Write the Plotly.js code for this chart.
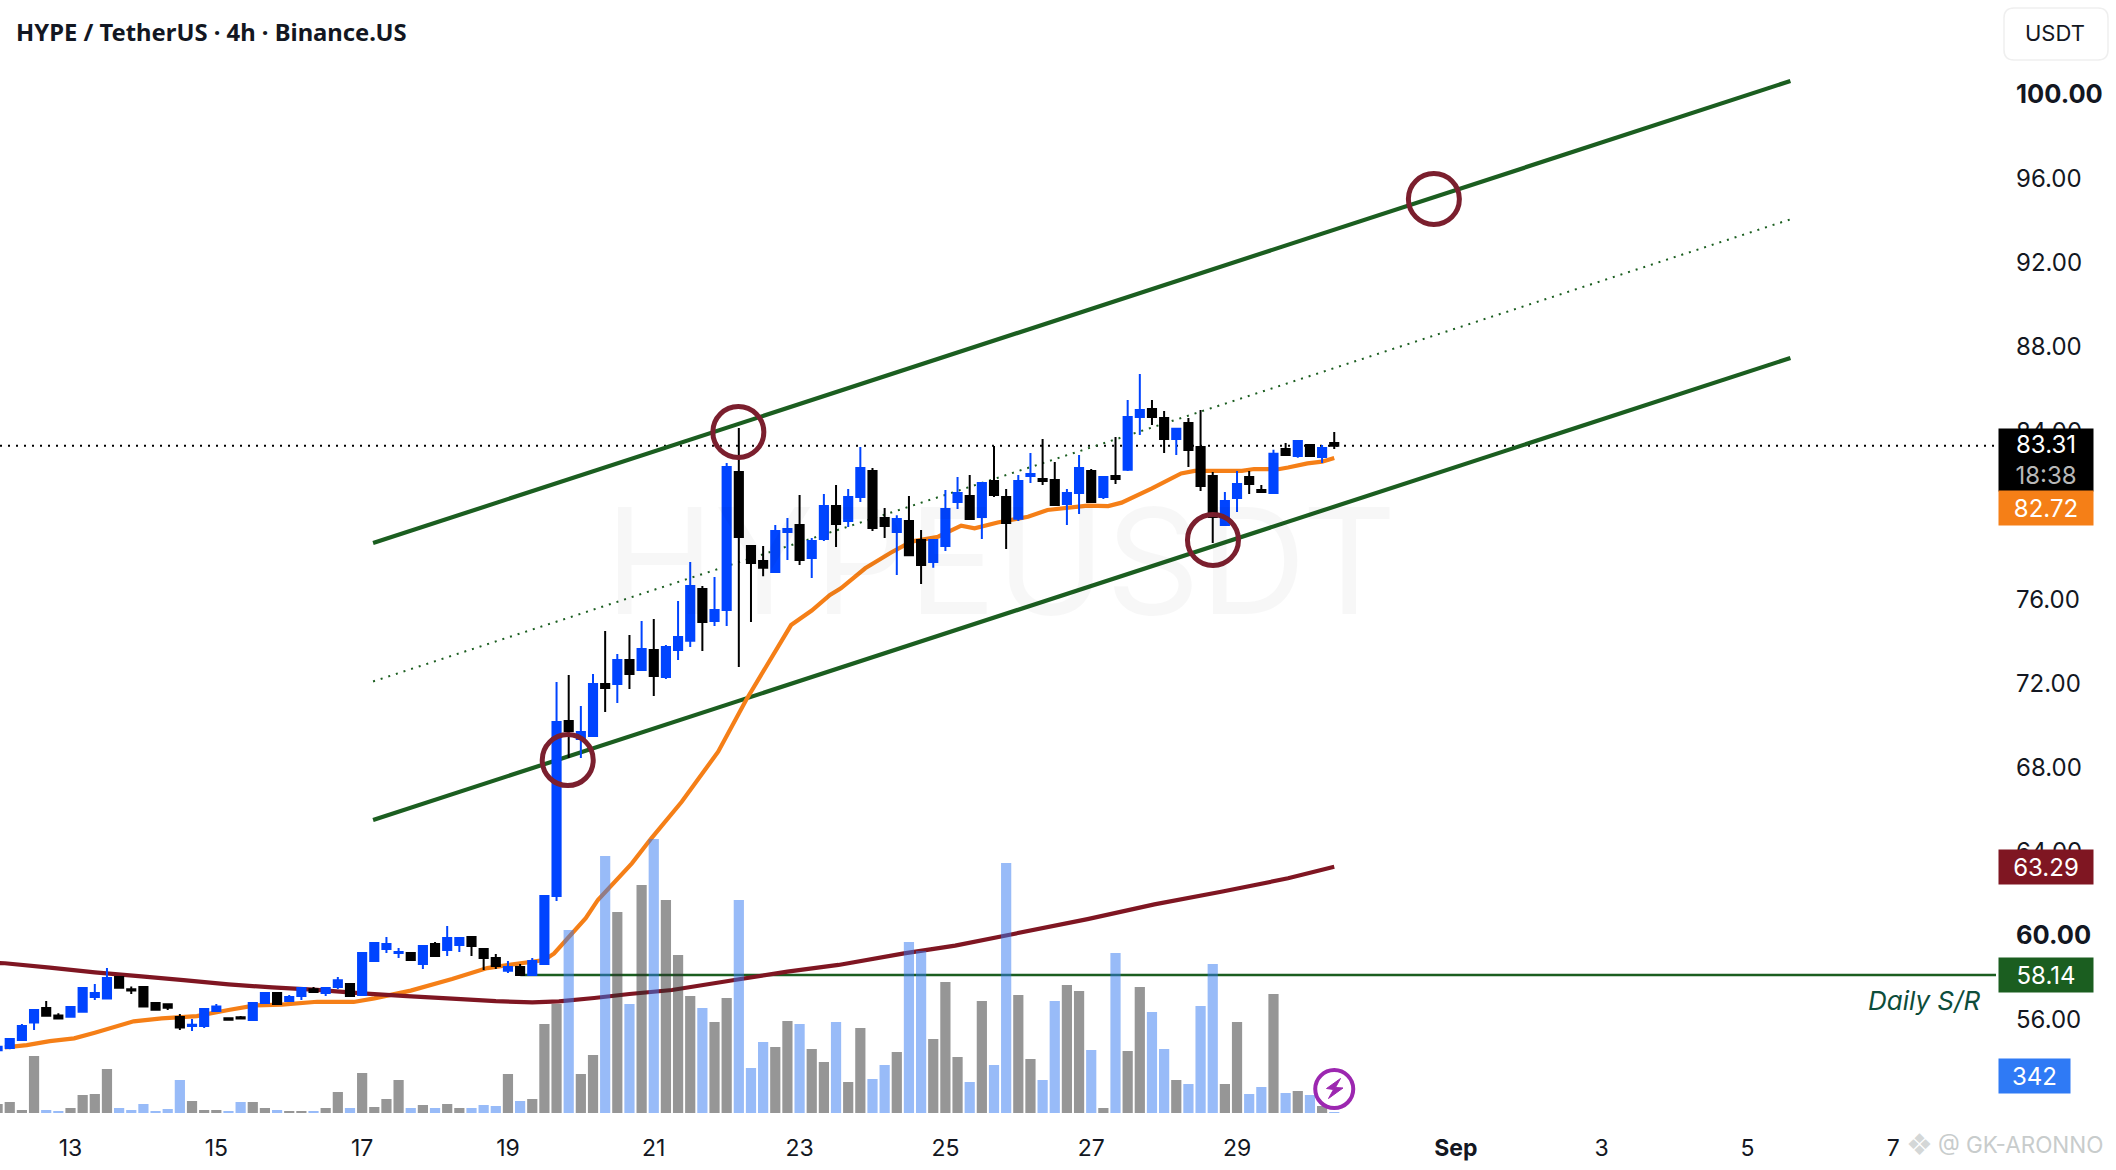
<!DOCTYPE html>
<html><head><meta charset="utf-8">
<script src="https://cdn.plot.ly/plotly-3.0.1.min.js"></script>
<style>html,body{margin:0;padding:0;background:#fff}#c{width:2116px;height:1170px}</style>
</head><body><div id="c"></div>
<script>
// 4h candles, first bar = Aug 12 00:00
const opens=[54.57,54.67,55.05,55.88,56.57,56.22,56.16,56.40,57.10,57.02,58.05,57.46,57.57,56.81,56.75,56.14,55.72,55.72,56.43,56.08,56.13,56.00,56.81,57.29,56.90,57.14,57.46,57.29,57.57,57.71,57.19,58.81,59.38,59.19,59.19,58.66,59.62,59.33,59.57,59.95,59.38,58.95,58.35,58.52,58.14,58.66,61.90,70.22,69.36,69.50,71.98,71.98,73.12,72.64,73.60,72.31,73.60,74.03,76.50,74.97,75.50,82.06,78.54,77.83,77.30,79.20,79.54,77.97,78.87,80.44,79.73,80.87,82.10,79.87,79.20,79.73,78.83,77.78,78.54,80.63,80.92,79.92,81.63,80.87,79.83,81.87,81.73,81.68,80.54,81.06,82.11,80.87,81.87,82.16,84.67,85.05,84.63,83.63,84.39,83.25,81.87,79.54,80.82,81.82,81.20,81.06,83.15,82.82,83.34,82.77,83.44];
const highs=[54.75,55.15,55.81,56.48,56.90,56.32,56.62,57.52,57.71,58.47,58.05,57.59,57.62,56.84,56.75,56.29,56.05,56.52,56.76,56.08,56.19,56.81,57.33,57.29,57.19,57.55,57.57,57.52,58.05,57.71,59.19,59.66,59.95,59.43,59.23,59.52,59.71,60.47,59.90,59.95,59.38,59.14,58.81,58.66,58.95,61.90,72.07,72.41,70.93,72.45,74.50,73.40,74.31,74.97,75.07,73.83,75.93,77.78,76.64,77.07,82.49,84.15,78.54,78.54,79.54,79.87,80.97,78.92,81.01,81.44,81.25,83.25,82.25,80.35,80.00,80.92,79.30,78.83,81.20,81.82,81.92,81.54,83.30,81.25,81.92,82.96,83.63,82.53,81.25,82.87,82.20,81.82,83.72,85.48,86.72,85.48,84.96,84.11,84.63,85.01,82.06,81.11,82.11,82.11,81.44,83.11,83.44,83.53,83.34,83.34,83.96];
const lows=[54.55,54.61,55.05,55.53,56.21,56.07,56.16,56.40,56.95,57.02,57.54,57.24,56.64,56.49,56.48,55.53,55.48,55.62,56.43,56.02,56.07,56.00,56.81,56.76,56.90,56.95,57.33,57.14,57.48,57.14,57.19,58.81,59.19,58.95,58.81,58.43,59.04,59.04,59.23,59.04,58.38,58.43,58.24,58.14,58.14,58.62,61.66,68.46,68.46,69.50,70.65,71.07,71.74,72.64,71.41,72.22,73.12,73.74,73.55,74.74,74.74,72.79,74.93,77.10,77.26,77.87,77.64,77.02,78.78,78.49,79.44,80.63,79.25,78.92,77.16,78.10,76.73,77.50,78.30,80.30,79.82,78.87,80.87,78.40,79.73,81.54,81.44,80.49,79.54,80.06,80.63,80.78,81.49,82.11,83.82,84.29,82.96,82.87,82.30,81.16,78.68,79.54,80.16,81.01,81.11,81.06,82.82,82.73,82.82,82.49,83.15];
const closes=[54.73,55.10,55.72,56.48,56.21,56.07,56.62,57.52,57.29,58.00,57.54,57.40,56.64,56.49,56.59,55.64,55.78,56.52,56.65,56.02,56.07,56.81,57.29,56.76,57.10,57.52,57.33,57.52,57.89,57.14,59.19,59.66,59.62,59.23,58.85,59.52,59.04,59.90,59.90,59.52,58.95,58.57,58.52,58.14,58.81,61.90,70.17,69.74,69.70,71.98,71.79,73.12,72.45,73.64,72.36,73.74,74.21,76.64,74.93,75.50,82.30,78.97,77.73,77.50,79.25,79.35,77.87,78.78,80.44,79.59,80.87,82.25,79.40,79.49,79.82,78.10,77.64,78.83,80.30,81.06,79.82,81.54,80.97,79.63,81.63,81.96,81.63,80.49,81.06,82.25,80.63,81.82,81.73,84.67,85.00,84.67,83.63,84.11,83.10,81.39,79.92,80.68,81.49,81.49,81.11,82.92,82.87,83.53,82.82,83.20,83.31];
const volumes=[3078,3762,1026,19494,1026,684,1710,6156,6498,15048,1710,1026,3078,684,1368,11286,4104,1026,1026,684,3762,3762,1710,1026,684,684,684,1710,7182,1710,13680,2052,4788,11286,1710,2736,1710,3078,1710,1710,2736,2394,13338,4104,4788,30438,37278,62586,13338,19836,87894,68742,37278,77976,93708,72846,54036,40014,35910,31122,39330,72846,15390,24282,22572,31464,30438,21888,17442,31122,10602,29070,11628,16416,20862,58482,55404,25308,44802,19152,10602,38304,16416,85500,40356,18468,11286,38304,43776,41724,21546,1710,54720,21204,43092,34542,21888,11286,9918,36594,50958,9918,31122,6498,8892,40698,6840,7524,6156,2394,342];

// moving averages, read at these bar numbers
const emaBars=[0.6,2.4,4.3,6.3,8,11.2,13.5,16.4,19,21.2,23.4,26.3,29.3,31,34,37.4,40.3,42.1,45,45.8,48.4,49.4,52.2,53.8,56.3,59.3,61.6,65.3,67,68.5,69.4,71.4,73.5,75.2,77.4,79.3,80.4,82.3,84.8,86.4,89.7,91.4,92.5,95,97.4,98.5,100.7,102.4,103.4,105.4,106.2,107.8,109,110];
const emaVals=[54.70,54.81,55.00,55.13,55.40,55.94,56.08,56.19,56.48,56.70,56.73,56.87,56.86,57.03,57.40,57.95,58.47,58.62,58.85,59.17,60.84,61.71,63.45,64.64,66.38,68.76,71.22,74.78,75.47,76.21,76.53,77.48,78.22,78.75,78.98,79.51,79.38,79.66,79.93,80.25,80.46,80.44,80.60,81.28,81.99,82.11,82.11,82.11,82.20,82.19,82.27,82.47,82.55,82.72];
const smaBars=[-0.6,0.6,4.3,8,11.6,15.3,19,22.6,26.3,30,33.7,37.4,41,44,46.2,49.1,52,55.5,60.9,65,69.2,74.6,78.8,83.4,89.7,95.2,100.7,106.2,110];
const smaVals=[58.72,58.70,58.49,58.27,58.09,57.90,57.70,57.55,57.43,57.27,57.14,57.02,56.90,56.84,56.89,57.05,57.24,57.43,57.93,58.30,58.62,59.17,59.54,60.07,60.80,61.50,62.10,62.74,63.29];

// drawings (day of August, price)
const channelDays=[17.15,36.59];
const channelUpper=[78.68,100.65];
const channelMid=[72.10,94.07];
const channelLower=[65.51,87.48];
const circleDays=[22.16,19.82,28.67,31.70];
const circlePrices=[83.96,68.36,78.83,95.04];
const srDays=[19.17,39.41];
const srLevel=[58.14,58.14];
const lastPrice=83.31, emaLast=82.72, smaLast=63.29, srLast=58.14;

const priceTicks=[56,60,64,68,72,76,84,88,92,96,100];
const B=t=>'<span style="font-size:25.5px"><b>'+t+'</b></span>';
const priceLabels=['56.00',B('60.00'),'64.00','68.00','72.00','76.00','84.00','88.00','92.00','96.00',B('100.00')];
const dayTicks=[13,15,17,19,21,23,25,27,29,32,34,36,38];
const dayLabels=['13','15','17','19','21','23','25','27','29','<b>Sep</b>','3','5','7'];

const days=opens.map((_,i)=>12+i/6);
const barDay=b=>12+b/6;
const xRange=[12.033,39.41], yRange=[51.01,104.5], volRange=[-4104,380646];
const F='Inter, sans-serif';

const line=(x,y,color,width,dash,ya)=>({type:'scatter',mode:'lines',x,y,yaxis:ya||'y',line:{color,width,dash:dash||'solid',simplify:false},hoverinfo:'skip',showlegend:false});

const traces=[
  line(xRange,[lastPrice,lastPrice],'#000',2,'2px,6px'),
  line(srDays,srLevel,'#1b5e20',2.4),
  line(channelDays,channelUpper,'#1b5e20',4.2),
  line(channelDays,channelLower,'#1b5e20',4.2),
  line(channelDays,channelMid,'#1b5e20',2,'2px,6px'),
  line(emaBars.map(barDay),emaVals,'#f57f17',4.2),
  line(smaBars.map(barDay),smaVals,'#7f1622',4.2),
  {type:'bar',x:days,y:volumes,yaxis:'y2',width:0.14,
   marker:{color:opens.map((o,i)=>closes[i]>=o?'rgba(46,46,46,0.5)':'rgba(49,119,241,0.5)'),line:{width:0}},hoverinfo:'skip',showlegend:false},
  {type:'candlestick',x:days,open:opens,high:highs,low:lows,close:closes,yaxis:'y3',whiskerwidth:0,
   increasing:{line:{color:'#0044ff',width:2},fillcolor:'#0044ff'},
   decreasing:{line:{color:'#000000',width:2},fillcolor:'#000000'},hoverinfo:'skip',showlegend:false},
  {type:'scatter',mode:'markers',x:circleDays,y:circlePrices,yaxis:'y4',
   marker:{symbol:'circle-open',size:51,color:'#7b1f2e',line:{color:'#7b1f2e',width:5}},hoverinfo:'skip',showlegend:false},
  {type:'scatter',mode:'markers',x:[barDay(110)],y:[52.72],yaxis:'y4',
   marker:{symbol:'circle',size:38,color:'#fff',line:{color:'#9c27b0',width:4}},hoverinfo:'skip',showlegend:false}
];

const tag=(y,text,bg,h,w)=>({xref:'paper',yref:'y',x:1,y,xanchor:'left',yanchor:'middle',xshift:2,text,showarrow:false,
  bgcolor:bg,width:w||94,height:h||34,borderpad:0,align:'center',valign:'middle',font:{family:F,size:24,color:'#fff'}});
const note=(xpx,ypx,text,font,xa)=>({xref:'paper',yref:'paper',x:xpx/1996,y:1-ypx/1125,xanchor:xa||'left',yanchor:'middle',text,showarrow:false,font});
const X=p=>p/1996, Y=p=>1-p/1125;

const layout={
  width:2116,height:1170,paper_bgcolor:'#fff',plot_bgcolor:'#fff',
  margin:{l:0,r:120,t:0,b:45,autoexpand:false},showlegend:false,boxgap:0.33,boxgroupgap:0,
  title:{text:'<b>HYPE / TetherUS · 4h · Binance.US</b>',x:17/2116,xanchor:'left',xref:'paper',y:1-33/1170,yanchor:'middle',font:{family:'"Noto Sans", sans-serif',size:23.8,color:'#131722'}},
  xaxis:{range:xRange,type:'linear',fixedrange:true,showgrid:false,zeroline:false,showline:false,ticks:'',rangeslider:{visible:false},
    tickmode:'array',tickvals:dayTicks,ticktext:dayLabels,ticklabelstandoff:7,tickfont:{family:F,size:23,color:'#131722'}},
  yaxis:{range:yRange,side:'right',fixedrange:true,showgrid:false,zeroline:false,showline:false,ticks:'',
    tickmode:'array',tickvals:priceTicks,ticktext:priceLabels,ticklabelstandoff:19,tickfont:{family:F,size:24,color:'#131722'}},
  yaxis2:{range:volRange,overlaying:'y',visible:false,fixedrange:true},
  yaxis3:{range:yRange,overlaying:'y',visible:false,fixedrange:true},
  yaxis4:{range:yRange,overlaying:'y',visible:false,fixedrange:true},
  shapes:[{type:'path',xref:'paper',yref:'paper',layer:'above',
    path:(()=>{const l=2004,r=2108,t=8,b=60,c=10;
      return `M${X(l+c)},${Y(t)} L${X(r-c)},${Y(t)} Q${X(r)},${Y(t)} ${X(r)},${Y(t+c)} L${X(r)},${Y(b-c)} Q${X(r)},${Y(b)} ${X(r-c)},${Y(b)} L${X(l+c)},${Y(b)} Q${X(l)},${Y(b)} ${X(l)},${Y(b-c)} L${X(l)},${Y(t+c)} Q${X(l)},${Y(t)} ${X(l+c)},${Y(t)} Z`})(),
    line:{color:'#efefef',width:1.5},fillcolor:'rgba(0,0,0,0)'},
    {type:'path',xref:'paper',yref:'paper',layer:'above',
     path:`M${X(1340.5)},${Y(1078.5)} L${X(1326.5)},${Y(1088.5)} L${X(1333.5)},${Y(1089.5)} L${X(1328.5)},${Y(1098.5)} L${X(1343)},${Y(1088)} L${X(1335.5)},${Y(1087.5)} Z`,
     line:{color:'#9c27b0',width:1},fillcolor:'#9c27b0'}],
  annotations:[
    note(1001,561,'HYPEUSDT',{family:F,size:147,color:'rgba(0,0,0,0.03)'},'center'),
    tag(82.63,'83.31<br><span style="color:#b8b8b8">18:38</span>','#000',62),
    tag(80.35,'82.72','#f57f17'),
    tag(63.28,'63.29','#7f1622'),
    tag(srLast,'58.14','#1b5e20'),
    tag(53.34,'342','#2f7af5',34,71),
    note(2055,33,'USDT',{family:F,size:22,color:'#131722'},'center'),
    note(1982,1000,'<i>Daily S/R</i>',{family:F,size:26,color:'#0d4d3a'},'right'),
    note(1919,1145,'❖',{family:'DejaVu Sans',size:30,color:'#d4d7d7'},'center'),
    note(1936,1145,'@ GK-ARONNO',{family:F,size:22.5,color:'#c8cccc'})
  ]
};
Plotly.newPlot('c',traces,layout,{staticPlot:true,displayModeBar:false});
</script></body></html>
